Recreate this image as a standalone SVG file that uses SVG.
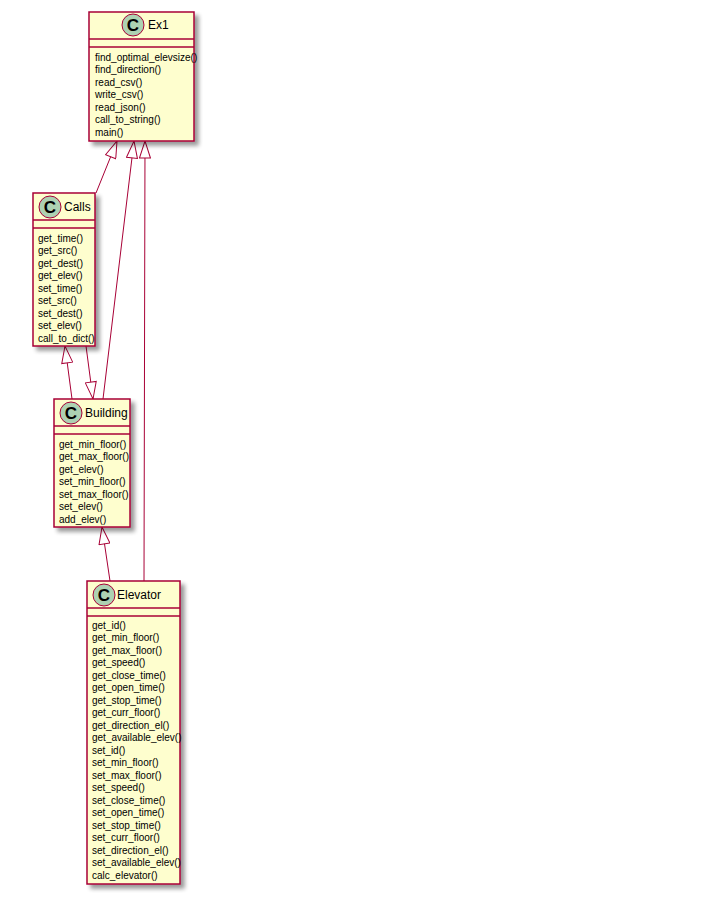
<svg xmlns="http://www.w3.org/2000/svg" width="718" height="911" viewBox="0 0 718 911">
<style>
.box{fill:#FEFECE;stroke:#A80036;stroke-width:1.5;filter:url(#sh)}
.sep{stroke:#A80036;stroke-width:1.5}
.ci{fill:#ADD1B2;stroke:#A80036;stroke-width:1}
.cl{font-family:"Liberation Sans",Arial,sans-serif;font-size:17px;font-weight:bold;fill:#000;text-anchor:middle}
.t{font-family:"Liberation Sans",Arial,sans-serif;font-size:12px;fill:#000}
.m{font-family:"Liberation Sans",Arial,sans-serif;font-size:10px;fill:#000}
.e{stroke:#A80036;stroke-width:1;fill:none;marker-end:url(#tri)}
</style>
<defs>
<filter id="sh" x="-20%" y="-20%" width="150%" height="150%"><feGaussianBlur in="SourceAlpha" stdDeviation="2"/><feOffset dx="4" dy="4"/><feComponentTransfer><feFuncA type="linear" slope="0.4"/></feComponentTransfer><feMerge><feMergeNode/><feMergeNode in="SourceGraphic"/></feMerge></filter>
<marker id="tri" viewBox="0 0 19 12" refX="18" refY="6" markerWidth="19" markerHeight="12" markerUnits="userSpaceOnUse" orient="auto"><path d="M1,0.5 L18,6 L1,11.5 Z" fill="#FFFFFF" stroke="#A80036" stroke-width="1"/></marker>
</defs>
<rect width="718" height="911" fill="#FFFFFF"/>
<g id="connectors">
<line class="e" x1="96" y1="193" x2="117" y2="141"/>
<line class="e" x1="103" y1="399" x2="134" y2="141"/>
<line class="e" x1="144" y1="581" x2="145" y2="141"/>
<line class="e" x1="72" y1="399" x2="65" y2="346"/>
<line class="e" x1="86" y1="346" x2="93" y2="399"/>
<line class="e" x1="110" y1="581" x2="102" y2="527"/>
</g>
<g id="Ex1">
<rect class="box" x="89" y="12" width="105" height="129"/>
<line class="sep" x1="89" y1="39" x2="194" y2="39"/><line class="sep" x1="89" y1="47" x2="194" y2="47"/>
<circle class="ci" cx="133" cy="25" r="11"/><text class="cl" x="133" y="31">C</text>
<text class="t" x="148" y="29">Ex1</text>
<text class="m" x="95" y="60.5">find_optimal_elevsize()</text>
<text class="m" x="95" y="73">find_direction()</text>
<text class="m" x="95" y="85.5">read_csv()</text>
<text class="m" x="95" y="98">write_csv()</text>
<text class="m" x="95" y="110.5">read_json()</text>
<text class="m" x="95" y="123">call_to_string()</text>
<text class="m" x="95" y="135.5">main()</text>
</g>
<g id="Calls">
<rect class="box" x="33" y="193" width="62" height="153"/>
<line class="sep" x1="33" y1="220" x2="95" y2="220"/><line class="sep" x1="33" y1="228" x2="95" y2="228"/>
<circle class="ci" cx="50" cy="207" r="11"/><text class="cl" x="50" y="213">C</text>
<text class="t" x="64" y="211">Calls</text>
<text class="m" x="38" y="241.5">get_time()</text>
<text class="m" x="38" y="254">get_src()</text>
<text class="m" x="38" y="266.5">get_dest()</text>
<text class="m" x="38" y="279">get_elev()</text>
<text class="m" x="38" y="291.5">set_time()</text>
<text class="m" x="38" y="304">set_src()</text>
<text class="m" x="38" y="316.5">set_dest()</text>
<text class="m" x="38" y="329">set_elev()</text>
<text class="m" x="38" y="341.5">call_to_dict()</text>
</g>
<g id="Building">
<rect class="box" x="54" y="399" width="76" height="128"/>
<line class="sep" x1="54" y1="426" x2="130" y2="426"/><line class="sep" x1="54" y1="434" x2="130" y2="434"/>
<circle class="ci" cx="71" cy="413" r="11"/><text class="cl" x="71" y="419">C</text>
<text class="t" x="85" y="417">Building</text>
<text class="m" x="59" y="447.5">get_min_floor()</text>
<text class="m" x="59" y="460">get_max_floor()</text>
<text class="m" x="59" y="472.5">get_elev()</text>
<text class="m" x="59" y="485">set_min_floor()</text>
<text class="m" x="59" y="497.5">set_max_floor()</text>
<text class="m" x="59" y="510">set_elev()</text>
<text class="m" x="59" y="522.5">add_elev()</text>
</g>
<g id="Elevator">
<rect class="box" x="87" y="581" width="93" height="303"/>
<line class="sep" x1="87" y1="608" x2="180" y2="608"/><line class="sep" x1="87" y1="616" x2="180" y2="616"/>
<circle class="ci" cx="104" cy="595" r="11"/><text class="cl" x="104" y="601">C</text>
<text class="t" x="117" y="599">Elevator</text>
<text class="m" x="92" y="628.5">get_id()</text>
<text class="m" x="92" y="641">get_min_floor()</text>
<text class="m" x="92" y="653.5">get_max_floor()</text>
<text class="m" x="92" y="666">get_speed()</text>
<text class="m" x="92" y="678.5">get_close_time()</text>
<text class="m" x="92" y="691">get_open_time()</text>
<text class="m" x="92" y="703.5">get_stop_time()</text>
<text class="m" x="92" y="716">get_curr_floor()</text>
<text class="m" x="92" y="728.5">get_direction_el()</text>
<text class="m" x="92" y="741">get_available_elev()</text>
<text class="m" x="92" y="753.5">set_id()</text>
<text class="m" x="92" y="766">set_min_floor()</text>
<text class="m" x="92" y="778.5">set_max_floor()</text>
<text class="m" x="92" y="791">set_speed()</text>
<text class="m" x="92" y="803.5">set_close_time()</text>
<text class="m" x="92" y="816">set_open_time()</text>
<text class="m" x="92" y="828.5">set_stop_time()</text>
<text class="m" x="92" y="841">set_curr_floor()</text>
<text class="m" x="92" y="853.5">set_direction_el()</text>
<text class="m" x="92" y="866">set_available_elev()</text>
<text class="m" x="92" y="878.5">calc_elevator()</text>
</g>
</svg>
